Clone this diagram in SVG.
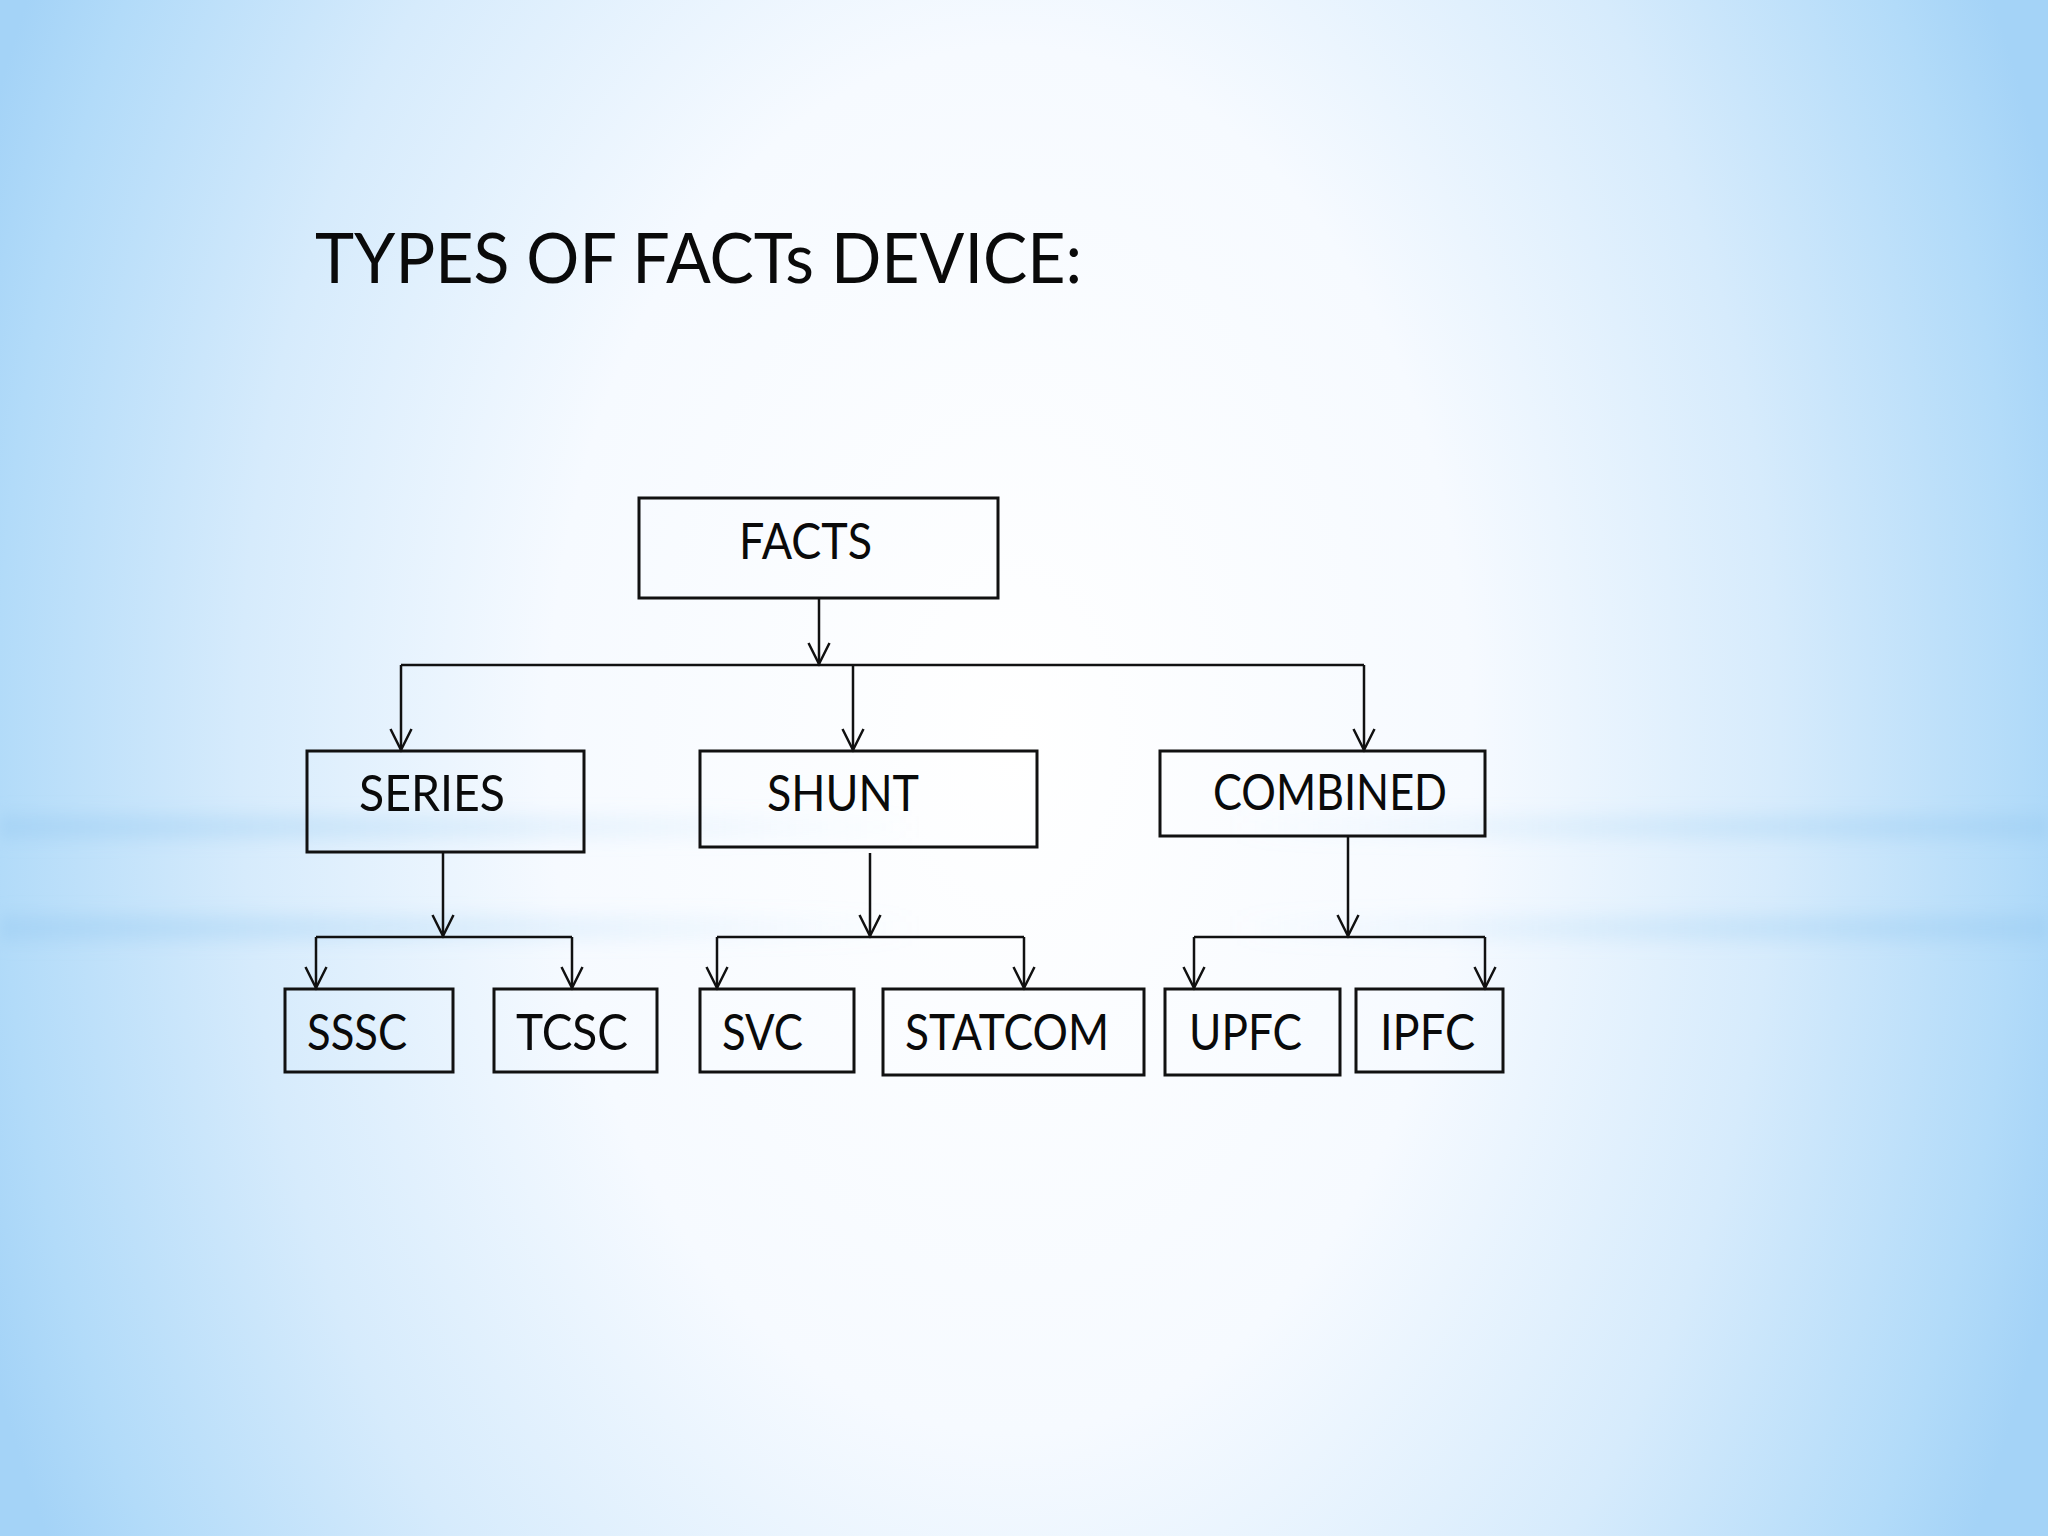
<svg xmlns="http://www.w3.org/2000/svg" width="2048" height="1536" viewBox="0 0 2048 1536">
<defs>
<radialGradient id="bg" gradientUnits="userSpaceOnUse" cx="1010" cy="740" r="1100" gradientTransform="translate(1010 740) scale(1 1.5) translate(-1010 -740)">
<stop offset="0" stop-color="#ffffff"/>
<stop offset="0.42" stop-color="#f6faff"/>
<stop offset="0.7" stop-color="#d6ebfc"/>
<stop offset="0.92" stop-color="#b2dbf9"/>
<stop offset="1" stop-color="#a4d3f7"/>
</radialGradient>
<linearGradient id="streak" x1="0" y1="0" x2="2048" y2="0" gradientUnits="userSpaceOnUse">
<stop offset="0" stop-color="#9ccdf2" stop-opacity="0.55"/>
<stop offset="0.25" stop-color="#a8d4f5" stop-opacity="0.25"/>
<stop offset="0.45" stop-color="#b8dcf7" stop-opacity="0"/>
<stop offset="0.6" stop-color="#b8dcf7" stop-opacity="0"/>
<stop offset="0.78" stop-color="#a8d4f5" stop-opacity="0.25"/>
<stop offset="1" stop-color="#9ccdf2" stop-opacity="0.55"/>
</linearGradient>
<filter id="blurY" x="-0.1" y="-3" width="1.2" height="7">
<feGaussianBlur stdDeviation="6 9"/>
</filter>
<marker id="arr" viewBox="-24 -14 28 28" markerWidth="28" markerHeight="28" refX="0" refY="0" orient="auto" markerUnits="userSpaceOnUse" overflow="visible">
<path d="M-21,-10.5 L0,0 L-21,10.5" fill="none" stroke="#111" stroke-width="2.5"/>
</marker>
<style>
.box{fill:none;stroke:#111;stroke-width:3}
.lbl{font-family:Lato,"Liberation Sans",sans-serif;font-size:50px;fill:#0a0a0a}
.sm{font-size:51px}
.title{font-family:Lato,"Liberation Sans",sans-serif;font-size:70px;fill:#0a0a0a}
.con{fill:none;stroke:#111;stroke-width:2.5}
</style>
</defs>
<rect x="0" y="0" width="2048" height="1536" fill="url(#bg)"/>
<g filter="url(#blurY)">
<rect x="0" y="816" width="2048" height="22" fill="url(#streak)"/>
<rect x="0" y="916" width="2048" height="24" fill="url(#streak)"/>
</g>
<text class="title" x="315" y="283" textLength="767" lengthAdjust="spacingAndGlyphs">TYPES OF FACTs DEVICE:</text>
<g id="connectors">
<path class="con" d="M819,598 V664" marker-end="url(#arr)"/>
<path class="con" d="M401,665 H1364"/>
<path class="con" d="M401,665 V750" marker-end="url(#arr)"/>
<path class="con" d="M853,665 V750" marker-end="url(#arr)"/>
<path class="con" d="M1364,665 V750" marker-end="url(#arr)"/>
<path class="con" d="M443,852 V936" marker-end="url(#arr)"/>
<path class="con" d="M316,937 H572"/>
<path class="con" d="M316,937 V988" marker-end="url(#arr)"/>
<path class="con" d="M572,937 V988" marker-end="url(#arr)"/>
<path class="con" d="M870,853 V936" marker-end="url(#arr)"/>
<path class="con" d="M717,937 H1024"/>
<path class="con" d="M717,937 V988" marker-end="url(#arr)"/>
<path class="con" d="M1024,937 V988" marker-end="url(#arr)"/>
<path class="con" d="M1348,836 V936" marker-end="url(#arr)"/>
<path class="con" d="M1194,937 H1485"/>
<path class="con" d="M1194,937 V988" marker-end="url(#arr)"/>
<path class="con" d="M1485,937 V988" marker-end="url(#arr)"/>
</g>
<g id="facts"><rect class="box" x="639" y="498" width="359" height="100"/><text class="lbl" x="739" y="559" textLength="133" lengthAdjust="spacingAndGlyphs">FACTS</text></g>
<g id="series"><rect class="box" x="307" y="751" width="277" height="101"/><text class="lbl" x="359" y="811" textLength="146" lengthAdjust="spacingAndGlyphs">SERIES</text></g>
<g id="shunt"><rect class="box" x="700" y="751" width="337" height="96"/><text class="lbl" x="767" y="811" textLength="152" lengthAdjust="spacingAndGlyphs">SHUNT</text></g>
<g id="combined"><rect class="box" x="1160" y="751" width="325" height="85"/><text class="lbl" x="1213" y="810" textLength="234" lengthAdjust="spacingAndGlyphs">COMBINED</text></g>
<g id="sssc"><rect class="box" x="285" y="989" width="168" height="83"/><text class="lbl sm" x="307" y="1050" textLength="100" lengthAdjust="spacingAndGlyphs">SSSC</text></g>
<g id="tcsc"><rect class="box" x="494" y="989" width="163" height="83"/><text class="lbl sm" x="516" y="1050" textLength="112" lengthAdjust="spacingAndGlyphs">TCSC</text></g>
<g id="svc"><rect class="box" x="700" y="989" width="154" height="83"/><text class="lbl sm" x="722" y="1050" textLength="81" lengthAdjust="spacingAndGlyphs">SVC</text></g>
<g id="statcom"><rect class="box" x="883" y="989" width="261" height="86"/><text class="lbl sm" x="905" y="1050" textLength="204" lengthAdjust="spacingAndGlyphs">STATCOM</text></g>
<g id="upfc"><rect class="box" x="1165" y="989" width="175" height="86"/><text class="lbl sm" x="1189" y="1050" textLength="113" lengthAdjust="spacingAndGlyphs">UPFC</text></g>
<g id="ipfc"><rect class="box" x="1356" y="989" width="147" height="83"/><text class="lbl sm" x="1380" y="1050" textLength="95" lengthAdjust="spacingAndGlyphs">IPFC</text></g>
</svg>
